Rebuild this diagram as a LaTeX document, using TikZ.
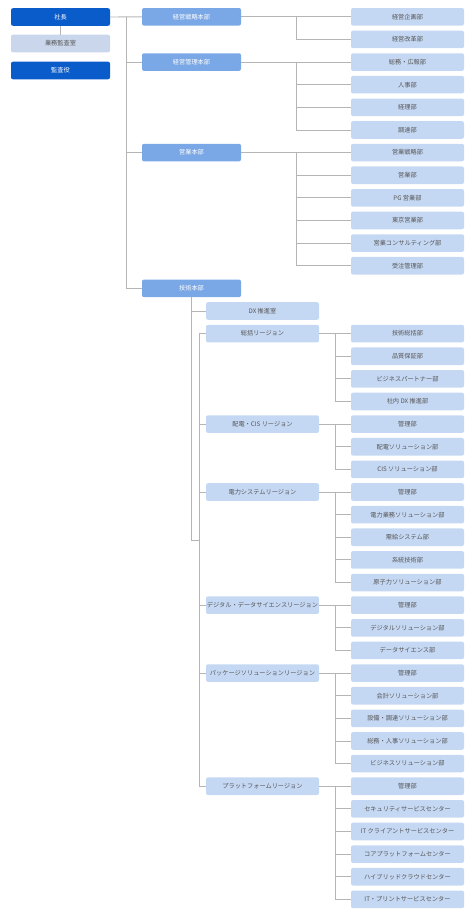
\documentclass[tikz,border=0pt]{standalone}
\usepackage{fontspec}
\newfontfamily\jpfont{Noto Sans CJK JP}
\definecolor{chiefblue}{HTML}{0B5CCB}
\definecolor{hqblue}{HTML}{7AA7E5}
\definecolor{deptblue}{HTML}{C5D8F3}
\definecolor{auditgray}{HTML}{C9D6EB}
\definecolor{linegray}{HTML}{B5B5B5}
\definecolor{textgray}{HTML}{555555}
\newcommand{\rowy}[1]{16.8+22.63*#1}

\begin{document}
\begin{tikzpicture}[x=1pt,y=-1pt,
  box/.style={rounded corners=2pt,minimum height=17.6pt,inner sep=0pt,font=\jpfont\fontsize{6.2}{7}\selectfont},
  chief/.style={box,fill=chiefblue,text=white,minimum width=99pt},
  hq/.style={box,fill=hqblue,text=white,minimum width=99pt},
  dept/.style={box,fill=deptblue,text=textgray,minimum width=113pt},
  link/.style={linegray,line width=0.9pt}]
  \useasboundingbox (0,0) rectangle (474,916);
  % left column
  \node[chief] (ceo) at (60.5,17) {社長};
  \node[box,fill=auditgray,text=textgray,minimum width=99pt] (audit) at (60.5,43.5) {業務監査室};
  \node[chief] (kansa) at (60.5,70.5) {監査役};
  \draw[link] (ceo.south) -- (audit.north);
  % headquarters
  \foreach \n/\r/\t in {hq1/0/経営戦略本部,hq2/2/経営管理本部,hq3/6/営業本部,hq4/12/技術本部}
    \node[hq] (\n) at (191.5,{\rowy{\r}}) {\t};
  \coordinate (trunk) at (126,{\rowy{0}});
  \draw[link] (ceo.east) -- (hq1.west);
  \foreach \h in {hq2,hq3,hq4} \draw[link] (trunk) |- (\h.west);
  % regions under 技術本部
  \foreach \n/\r/\t in {dx/13/DX 推進室,rg1/14/総括リージョン,rg2/18/配電・CIS リージョン,rg3/21/電力システムリージョン,
      rg4/26/デジタル・データサイエンスリージョン,rg5/29/パッケージソリューションリージョン,rg6/34/プラットフォームリージョン}
    \node[dept] (\n) at (262.5,{\rowy{\r}}) {\t};
  \coordinate (tj) at (199,540);
  \coordinate (tb) at (199,{\rowy{14}});
  \draw[link] (hq4.south) |- (dx.west);
  \draw[link] (hq4.south) |- (tj);
  \foreach \g in {rg1,rg2,rg3,rg4,rg5,rg6} \draw[link] (tb) |- (\g.west);
  % departments
  \foreach \r/\t in {0/経営企画部,1/経営改革部,2/総務・広報部,3/人事部,4/経理部,5/調達部,
      6/営業戦略部,7/営業部,8/PG 営業部,9/東京営業部,10/営業コンサルティング部,11/受注管理部,
      14/技術総括部,15/品質保証部,16/ビジネスパートナー部,17/社内 DX 推進部,
      18/管理部,19/配電ソリューション部,20/CIS ソリューション部,
      21/管理部,22/電力業務ソリューション部,23/需給システム部,24/系統技術部,25/原子力ソリューション部,
      26/管理部,27/デジタルソリューション部,28/データサイエンス部,
      29/管理部,30/会計ソリューション部,31/設備・調達ソリューション部,32/総務・人事ソリューション部,33/ビジネスソリューション部,
      34/管理部,35/セキュリティサービスセンター,36/IT クライアントサービスセンター,37/コアプラットフォームセンター,
      38/ハイブリッドクラウドセンター,39/IT・プリントサービスセンター}
    \node[dept] (r\r) at (407.5,{\rowy{\r}}) {\t};
  % branches to departments
  \foreach \p/\x/\first/\last in {hq1/296/0/1,hq2/296/2/5,hq3/296/6/11,rg1/335.5/14/17,rg2/335.5/18/20,
      rg3/335.5/21/25,rg4/335.5/26/28,rg5/335.5/29/33,rg6/335.5/34/39} {
    \coordinate (bus) at (\x,{\rowy{\first}});
    \draw[link] (\p.east) -- (r\first.west);
    \foreach \d in {\first,...,\last} \draw[link] (bus) |- (r\d.west);
  }
\end{tikzpicture}
\end{document}
